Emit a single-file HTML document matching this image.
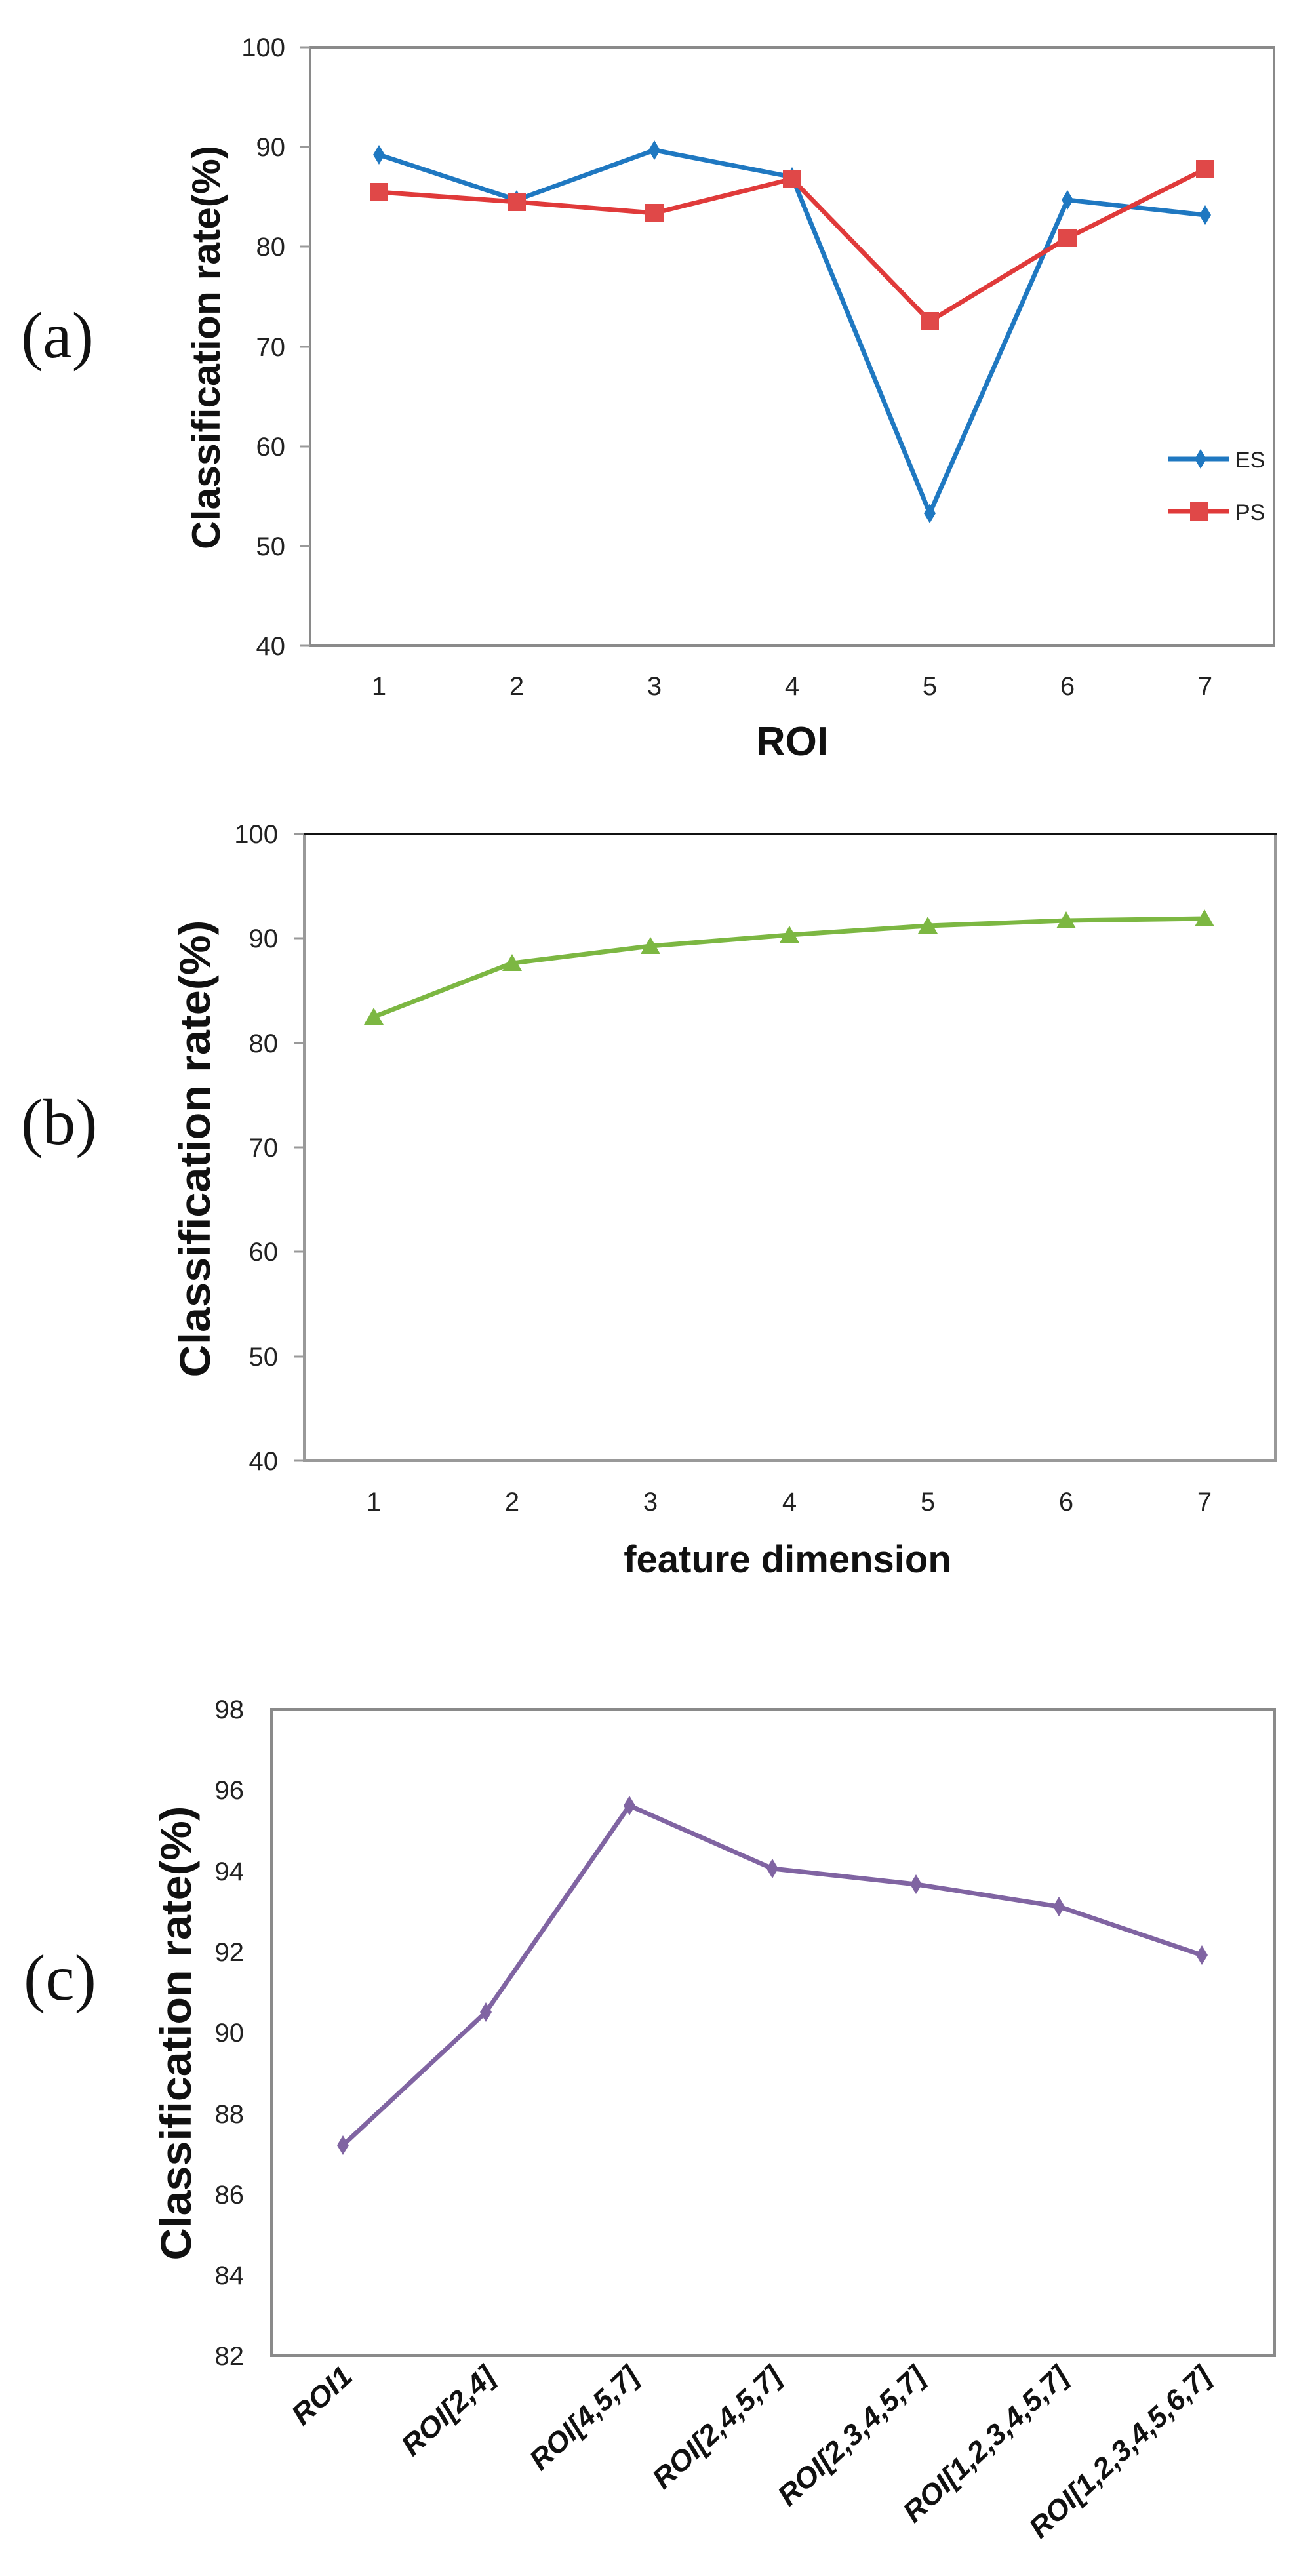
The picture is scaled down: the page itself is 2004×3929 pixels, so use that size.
<!DOCTYPE html>
<html><head><meta charset="utf-8"><style>html,body{margin:0;padding:0;background:#fff}svg{display:block}</style></head>
<body>
<svg width="2004" height="3929" viewBox="0 0 2004 3929" xmlns="http://www.w3.org/2000/svg">
<defs>
<path id="dia" d="M0,-15 L9,0 L0,15 L-9,0 Z"/>
<path id="sq" d="M-14,-14 H14 V14 H-14 Z"/>
<path id="tri" d="M0,-14 L15,12 L-15,12 Z"/>
</defs>
<g font-family="Liberation Sans Narrow, Liberation Sans, sans-serif" fill="#222">

<!-- (a) -->
<text x="32" y="545" font-family="Liberation Serif, serif" font-size="100" fill="#111">(a)</text>
<rect x="473" y="72" width="1470" height="913" fill="none" stroke="#8a8a8a" stroke-width="4"/>
<g stroke="#999" stroke-width="3">
<line x1="458" y1="72" x2="473" y2="72"/><line x1="458" y1="224" x2="473" y2="224"/><line x1="458" y1="376" x2="473" y2="376"/><line x1="458" y1="529" x2="473" y2="529"/><line x1="458" y1="681" x2="473" y2="681"/><line x1="458" y1="833" x2="473" y2="833"/><line x1="458" y1="985" x2="473" y2="985"/>
</g>
<g font-size="40" text-anchor="end">
<text x="435" y="86">100</text><text x="435" y="238">90</text><text x="435" y="390">80</text><text x="435" y="543">70</text><text x="435" y="695">60</text><text x="435" y="847">50</text><text x="435" y="999">40</text>
</g>
<g font-size="40" text-anchor="middle">
<text x="578" y="1060">1</text><text x="788" y="1060">2</text><text x="998" y="1060">3</text><text x="1208" y="1060">4</text><text x="1418" y="1060">5</text><text x="1628" y="1060">6</text><text x="1838" y="1060">7</text>
</g>
<text x="1208" y="1152" font-family="Liberation Sans, sans-serif" font-weight="bold" font-size="62" text-anchor="middle" fill="#111">ROI</text>
<text transform="translate(335,530) rotate(-90)" font-family="Liberation Sans, sans-serif" font-weight="bold" font-size="60" text-anchor="middle" textLength="616" lengthAdjust="spacingAndGlyphs" fill="#111">Classification  rate(%)</text>
<polyline fill="none" stroke="#1f78c1" stroke-width="7" stroke-linejoin="round" points="578,236 788,305 998,229 1208,270 1418,783 1628,305 1838,328"/>
<g fill="#1f78c1"><use href="#dia" x="578" y="236"/><use href="#dia" x="788" y="305"/><use href="#dia" x="998" y="229"/><use href="#dia" x="1208" y="270"/><use href="#dia" x="1418" y="783"/><use href="#dia" x="1628" y="305"/><use href="#dia" x="1838" y="328"/></g>
<polyline fill="none" stroke="#e03a3a" stroke-width="7" stroke-linejoin="round" points="578,293 788,308 998,325 1208,273 1418,490 1628,363 1838,258"/>
<g fill="#e04848"><use href="#sq" x="578" y="293"/><use href="#sq" x="788" y="308"/><use href="#sq" x="998" y="325"/><use href="#sq" x="1208" y="273"/><use href="#sq" x="1418" y="490"/><use href="#sq" x="1628" y="363"/><use href="#sq" x="1838" y="258"/></g>
<line x1="1782" y1="700" x2="1875" y2="700" stroke="#1f78c1" stroke-width="7"/><use href="#dia" x="1831" y="700" fill="#1f78c1"/>
<line x1="1782" y1="780" x2="1875" y2="780" stroke="#e03a3a" stroke-width="7"/><use href="#sq" x="1829" y="780" fill="#e04848"/>
<text x="1884" y="713" font-size="34">ES</text><text x="1884" y="793" font-size="34">PS</text>

<!-- (b) -->
<text x="32" y="1745" font-family="Liberation Serif, serif" font-size="100" fill="#111">(b)</text>
<rect x="464" y="1272" width="1481" height="956" fill="none" stroke="#999" stroke-width="4"/>
<line x1="462" y1="1272" x2="1947" y2="1272" stroke="#111" stroke-width="4"/>
<g stroke="#999" stroke-width="3">
<line x1="449" y1="1272" x2="464" y2="1272"/><line x1="449" y1="1431" x2="464" y2="1431"/><line x1="449" y1="1591" x2="464" y2="1591"/><line x1="449" y1="1750" x2="464" y2="1750"/><line x1="449" y1="1909" x2="464" y2="1909"/><line x1="449" y1="2069" x2="464" y2="2069"/><line x1="449" y1="2228" x2="464" y2="2228"/>
</g>
<g font-size="40" text-anchor="end">
<text x="424" y="1286">100</text><text x="424" y="1445">90</text><text x="424" y="1605">80</text><text x="424" y="1764">70</text><text x="424" y="1923">60</text><text x="424" y="2083">50</text><text x="424" y="2242">40</text>
</g>
<g font-size="40" text-anchor="middle">
<text x="570" y="2304">1</text><text x="781" y="2304">2</text><text x="992" y="2304">3</text><text x="1204" y="2304">4</text><text x="1415" y="2304">5</text><text x="1626" y="2304">6</text><text x="1837" y="2304">7</text>
</g>
<text x="1201" y="2398" font-family="Liberation Sans, sans-serif" font-weight="bold" font-size="58" text-anchor="middle" fill="#111">feature dimension</text>
<text transform="translate(320,1752) rotate(-90)" font-family="Liberation Sans, sans-serif" font-weight="bold" font-size="66" text-anchor="middle" textLength="697" lengthAdjust="spacingAndGlyphs" fill="#111">Classification rate(%)</text>
<polyline fill="none" stroke="#7cb742" stroke-width="7" stroke-linejoin="round" points="570,1551 781,1469 992,1443 1204,1426 1415,1412 1626,1404 1837,1401"/>
<g fill="#7cb742"><use href="#tri" x="570" y="1551"/><use href="#tri" x="781" y="1469"/><use href="#tri" x="992" y="1443"/><use href="#tri" x="1204" y="1426"/><use href="#tri" x="1415" y="1412"/><use href="#tri" x="1626" y="1404"/><use href="#tri" x="1837" y="1401"/></g>

<!-- (c) -->
<text x="36" y="3050" font-family="Liberation Serif, serif" font-size="100" fill="#111">(c)</text>
<rect x="414" y="2607" width="1530" height="986" fill="none" stroke="#8a8a8a" stroke-width="4"/>
<g font-size="40" text-anchor="end">
<text x="372" y="2621">98</text><text x="372" y="2744">96</text><text x="372" y="2868">94</text><text x="372" y="2991">92</text><text x="372" y="3114">90</text><text x="372" y="3238">88</text><text x="372" y="3361">86</text><text x="372" y="3484">84</text><text x="372" y="3607">82</text>
</g>
<g font-family="Liberation Sans, sans-serif" font-style="italic" font-weight="bold" font-size="44" text-anchor="end" fill="#111" lengthAdjust="spacingAndGlyphs">
<text transform="translate(540,3628) rotate(-43)" textLength="107" lengthAdjust="spacingAndGlyphs">ROI1</text>
<text transform="translate(758,3628) rotate(-43)" textLength="176" lengthAdjust="spacingAndGlyphs">ROI[2,4]</text>
<text transform="translate(977,3628) rotate(-43)" textLength="208" lengthAdjust="spacingAndGlyphs">ROI[4,5,7]</text>
<text transform="translate(1195,3628) rotate(-43)" textLength="250" lengthAdjust="spacingAndGlyphs">ROI[2,4,5,7]</text>
<text transform="translate(1414,3628) rotate(-43)" textLength="288" lengthAdjust="spacingAndGlyphs">ROI[2,3,4,5,7]</text>
<text transform="translate(1632,3628) rotate(-43)" textLength="325" lengthAdjust="spacingAndGlyphs">ROI[1,2,3,4,5,7]</text>
<text transform="translate(1850,3628) rotate(-43)" textLength="360" lengthAdjust="spacingAndGlyphs">ROI[1,2,3,4,5,6,7]</text>
</g>
<text transform="translate(291,3101) rotate(-90)" font-family="Liberation Sans, sans-serif" font-weight="bold" font-size="66" text-anchor="middle" textLength="693" lengthAdjust="spacingAndGlyphs" fill="#111">Classification rate(%)</text>
<polyline fill="none" stroke="#8064a2" stroke-width="7" stroke-linejoin="round" points="523,3272 741,3069 960,2754 1178,2850 1397,2874 1615,2908 1833,2982"/>
<g fill="#8064a2"><use href="#dia" x="523" y="3272"/><use href="#dia" x="741" y="3069"/><use href="#dia" x="960" y="2754"/><use href="#dia" x="1178" y="2850"/><use href="#dia" x="1397" y="2874"/><use href="#dia" x="1615" y="2908"/><use href="#dia" x="1833" y="2982"/></g>
</g>
</svg>
</body></html>
